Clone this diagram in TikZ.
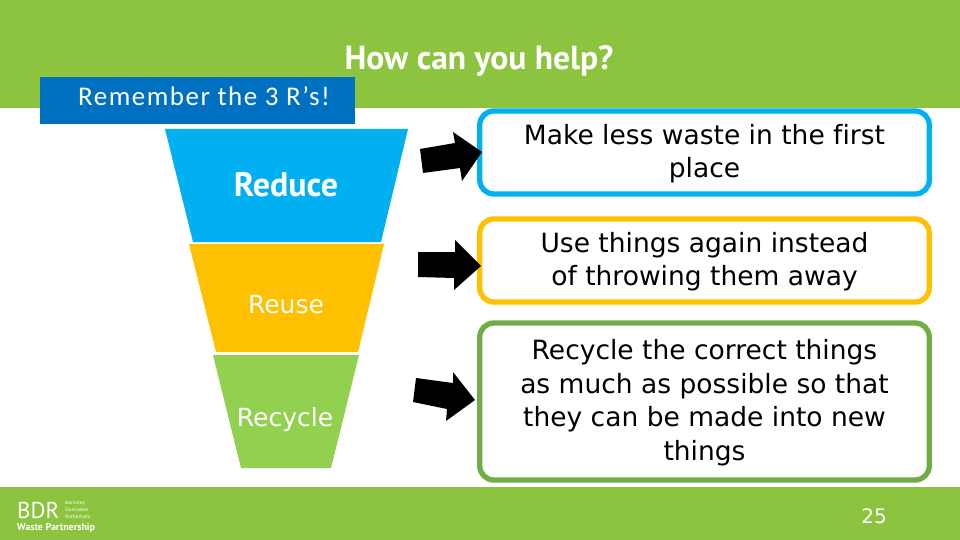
\documentclass[tikz,border=0pt]{standalone}
\usepackage{fontspec}
\setmainfont{Carlito}
\newfontfamily\headfont{PT Sans}
\newfontfamily\handfont[Ligatures=NoCommon]{DejaVu Sans}
\usetikzlibrary{positioning}
\definecolor{bandgreen}{HTML}{8CC43F}
\definecolor{headblue}{HTML}{0070C0}
\definecolor{reduceblue}{HTML}{00B0F0}
\definecolor{reuseyellow}{HTML}{FFC000}
\definecolor{recyclegreen}{HTML}{92D050}
\definecolor{boxgreen}{HTML}{70AD47}
\newcommand{\boxstrut}{\rule{0pt}{23pt}}
\tikzset{
  x=1pt,y=-1pt,
  band/.style={fill=bandgreen,draw=none},
  level text/.style={font=\handfont\fontsize{25}{25}\selectfont,text=white},
  info box/.style={draw,line width=5.3pt,rounded corners=14pt,fill=white,align=center,font=\handfont\fontsize{26.5}{33.5}\selectfont,inner sep=0pt,minimum width=449.5pt},
  block arrow/.style={fill=black,draw=none}
}
\begin{document}
\begin{tikzpicture}
  \useasboundingbox (0,0) rectangle (960,540);
  \fill[white] (0,0) rectangle (960,540);
  \path[band] (0,0) rectangle (960,108);
  \path[band] (0,487) rectangle (960,540);

  \fill[headblue] (40,77) rectangle (355,124);
  \node[font=\addfontfeature{LetterSpace=5.6}\fontsize{27}{27}\selectfont,text=white] (remember) at (204,96) {Remember the 3 R’s!};
  \node[font=\headfont\bfseries\fontsize{33.5}{33.5}\selectfont,text=white] (title) at (479,61) {How can you help?};

  \fill[reduceblue] (165,129) -- (408,129) -- (381,242) -- (193,242) -- cycle;
  \fill[reuseyellow] (189,244) -- (384,244) -- (358,352) -- (216,352) -- cycle;
  \fill[recyclegreen] (213,355) -- (359,355) -- (331,468) -- (241,468) -- cycle;
  \node[font=\headfont\bfseries\fontsize{34}{34}\selectfont,text=white] (reduce) at (286,185) {Reduce};
  \node[level text] (reuse) at (286,305) {Reuse};
  \node[level text] (recycle) at (285,420) {Recycle};

  \node[info box,draw=reduceblue,minimum height=83pt] (less) at (704.5,152.5) {\boxstrut Make less waste in the first\\place};
  \node[info box,draw=reuseyellow,minimum height=83pt] (again) at (704.5,260.5) {\boxstrut Use things again instead\\of throwing them away};
  \node[info box,draw=boxgreen,minimum height=157pt] (correct) at (704.5,401.5) {\boxstrut Recycle the correct things\\as much as possible so that\\they can be made into new\\things};

  \path[block arrow] (420,149) -- (455,143) -- (453,132) -- (482,152) -- (462,181) -- (460,168) -- (423,173) -- cycle;
  \path[block arrow] (418,252) -- (455,252) -- (455,240) -- (481,266) -- (454,290) -- (454,278) -- (418,277) -- cycle;
  \path[block arrow] (416,378) -- (453,383) -- (453,372) -- (475,400) -- (446,421) -- (447,409) -- (413,402) -- cycle;

  \node[font=\headfont\fontsize{23}{23}\selectfont,text=white,anchor=west,inner sep=0pt] (bdr) at (17,510) {BDR};
  \node[font=\handfont\fontsize{4.6}{7.2}\selectfont,text=white,align=left,anchor=west,inner sep=0pt] (towns) at (65,509.5) {Barnsley\\Doncaster\\Rotherham};
  \node[font=\headfont\bfseries\fontsize{10}{10}\selectfont,text=white,anchor=west,inner sep=0pt] (waste) at (17,528) {Waste Partnership};
  \node[font=\handfont\fontsize{20}{20}\selectfont,text=white] (page) at (874,516) {25};
\end{tikzpicture}
\end{document}
